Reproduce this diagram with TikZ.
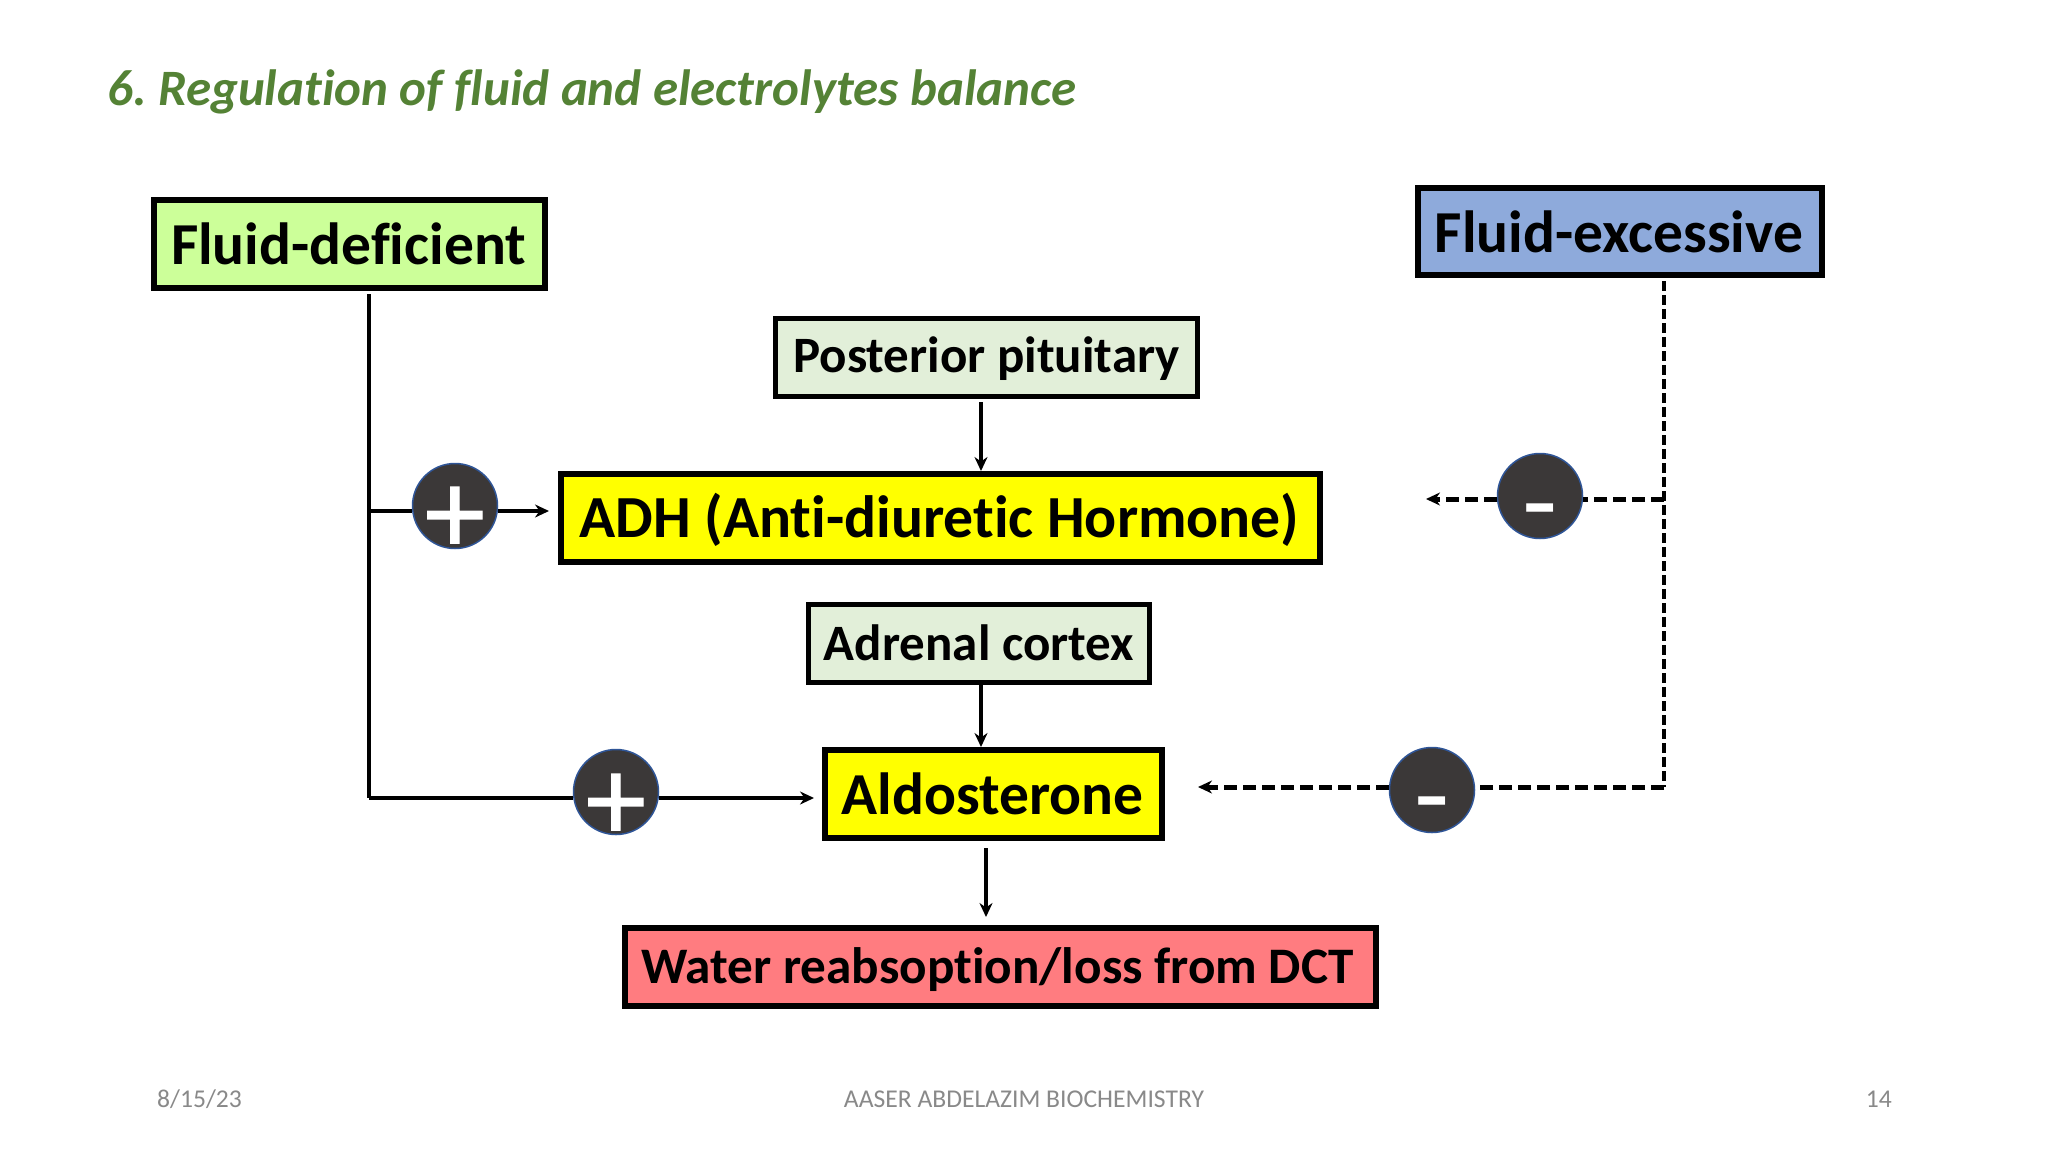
\documentclass[tikz,border=0pt]{standalone}
\usepackage{fontspec}
\setmainfont[RawFeature=-liga]{Carlito}
\newfontfamily\signfont[FakeBold=1]{Carlito}
\usetikzlibrary{arrows.meta}
\definecolor{titlegreen}{RGB}{84,130,53}
\definecolor{foot}{RGB}{137,137,137}
\definecolor{defgreen}{RGB}{204,255,153}
\definecolor{excblue}{RGB}{142,170,219}
\definecolor{palegreen}{RGB}{226,239,217}
\definecolor{waterred}{RGB}{255,124,128}
\definecolor{disc}{RGB}{59,56,56}
\definecolor{discline}{RGB}{47,85,151}
\definecolor{hormone}{RGB}{255,255,0}
\newcommand{\basedrop}[2]{\raisebox{-#1pt}[0pt][0pt]{#2}}
\tikzset{
  x=1pt,y=-1pt,
  bigbox/.style={draw=black,line width=6pt,inner sep=0pt,font=\bfseries},
  smallbox/.style={draw=black,line width=4.5pt,inner sep=0pt,fill=palegreen,font=\bfseries\fontsize{51}{51}\selectfont},
  signdisc/.style={circle,fill=disc,draw=discline,line width=1.5pt,minimum size=85pt,inner sep=0pt},
  signtext/.style={text=white,inner sep=0pt,anchor=base},
  plainline/.style={draw=black,line width=3.5pt},
  thick line/.style={draw=black,line width=4.5pt},
  head/.style={-{Stealth[length=14pt,width=13pt]}},
  dashline/.style={draw=black,line width=5pt,dash pattern=on 13pt off 6pt},
  thindash/.style={draw=black,line width=3.5pt,dash pattern=on 10pt off 4pt},
  foottext/.style={text=foot,inner sep=0pt,font=\fontsize{25.6}{25.6}\selectfont}
}
\begin{document}
\frenchspacing
\begin{tikzpicture}
\useasboundingbox (0,0) rectangle (2048,1152);
\fill[white] (0,0) rectangle (2048,1152);
\node[anchor=west,inner sep=0pt,text=titlegreen,font=\bfseries\itshape\fontsize{51}{51}\selectfont] (title) at (107,92) {6. Regulation of fluid and electrolytes balance};

\node[bigbox,fill=defgreen,minimum width=391pt,minimum height=88pt,font=\bfseries\fontsize{59.5}{59.5}\selectfont] (def) at (349.5,244) {\hspace*{-2pt}Fluid-deficient};
\node[bigbox,fill=excblue,minimum width=404pt,minimum height=87pt,font=\bfseries\fontsize{59.5}{59.5}\selectfont] (exc) at (1620,231.5) {\hspace*{-2pt}Fluid-excessive};
\node[smallbox,minimum width=422pt,minimum height=78pt] (pit) at (986.5,357.5) {\basedrop{15}{Posterior pituitary}};
\node[bigbox,fill=hormone,minimum width=759pt,minimum height=88pt,font=\bfseries\fontsize{59.7}{59.7}\selectfont] (adh) at (940.5,518) {\basedrop{19.5}{\hspace*{-2pt}ADH (Anti-diuretic Hormone)}};
\node[smallbox,minimum width=341pt,minimum height=78pt] (adr) at (979,643.5) {\basedrop{17}{Adrenal cortex}};
\node[bigbox,fill=hormone,minimum width=337pt,minimum height=88pt,font=\bfseries\fontsize{59.5}{59.5}\selectfont] (ald) at (993.5,794) {\hspace*{-2pt}Aldosterone};
\node[bigbox,fill=waterred,minimum width=751pt,minimum height=78pt,font=\bfseries\fontsize{51.2}{51.2}\selectfont] (wat) at (1000.5,967) {\basedrop{16.5}{\hspace*{-6pt}Water reabsoption/loss from DCT}};

\coordinate (dtop) at (369,294);
\coordinate (j1) at (369,511);
\coordinate (j2) at (369,798);
\coordinate (etop) at (1664,281);
\coordinate (k1) at (1664,499);
\coordinate (k2) at (1664,787);
\coordinate (pa) at (981,402);
\coordinate (aa) at (981,683);
\coordinate (wa) at (986,848);

\node[signdisc] (p1) at (455,506) {};
\node[signdisc] (p2) at (616,792) {};
\node[signdisc] (m1) at (1540,496) {};
\node[signdisc] (m2) at (1432,790) {};
\node[signtext,font=\signfont\fontsize{120}{120}\selectfont] (p1s) at (455,553) {+};
\node[signtext,font=\signfont\fontsize{120}{120}\selectfont] (p2s) at (616,840) {+};
\node[signtext,font=\fontsize{115}{115}\selectfont] (m1s) at (1540,540) {-};
\node[signtext,font=\fontsize{115}{115}\selectfont] (m2s) at (1432,833) {-};

\draw[plainline] (dtop) -- (j2);
\draw[thick line] (j1) -- (j1 -| p1.west);
\draw[thick line,head,shorten >=9pt] (j1 -| p1.east) -- (j1 -| adh.west);
\draw[thick line] (j2) -- (j2 -| p2.west);
\draw[thick line,head,shorten >=8pt] (j2 -| p2.east) -- (j2 -| ald.west);
\draw[plainline,head] (pa) -- (pa |- adh.north);
\draw[plainline,head] (aa) -- (aa |- ald.north);
\draw[plainline,head,shorten >=8pt] (wa) -- (wa |- wat.north);

\draw[thindash] (etop) -- (k2);
\draw[dashline] (k1) -- (k1 -| m1.east);
\draw[dashline,head,shorten >=103pt] (k1 -| m1.west) -- (k1 -| adh.east);
\draw[dashline] (k2) -- (k2 -| m2.east);
\draw[dashline,head,shorten >=33pt] (k2 -| m2.west) -- (k2 -| ald.east);

\node[foottext,anchor=west] (date) at (157,1099) {8/15/23};
\node[foottext] (foot) at (1024,1099) {AASER ABDELAZIM BIOCHEMISTRY};
\node[foottext,anchor=east] (page) at (1892,1099) {14};
\end{tikzpicture}
\end{document}
